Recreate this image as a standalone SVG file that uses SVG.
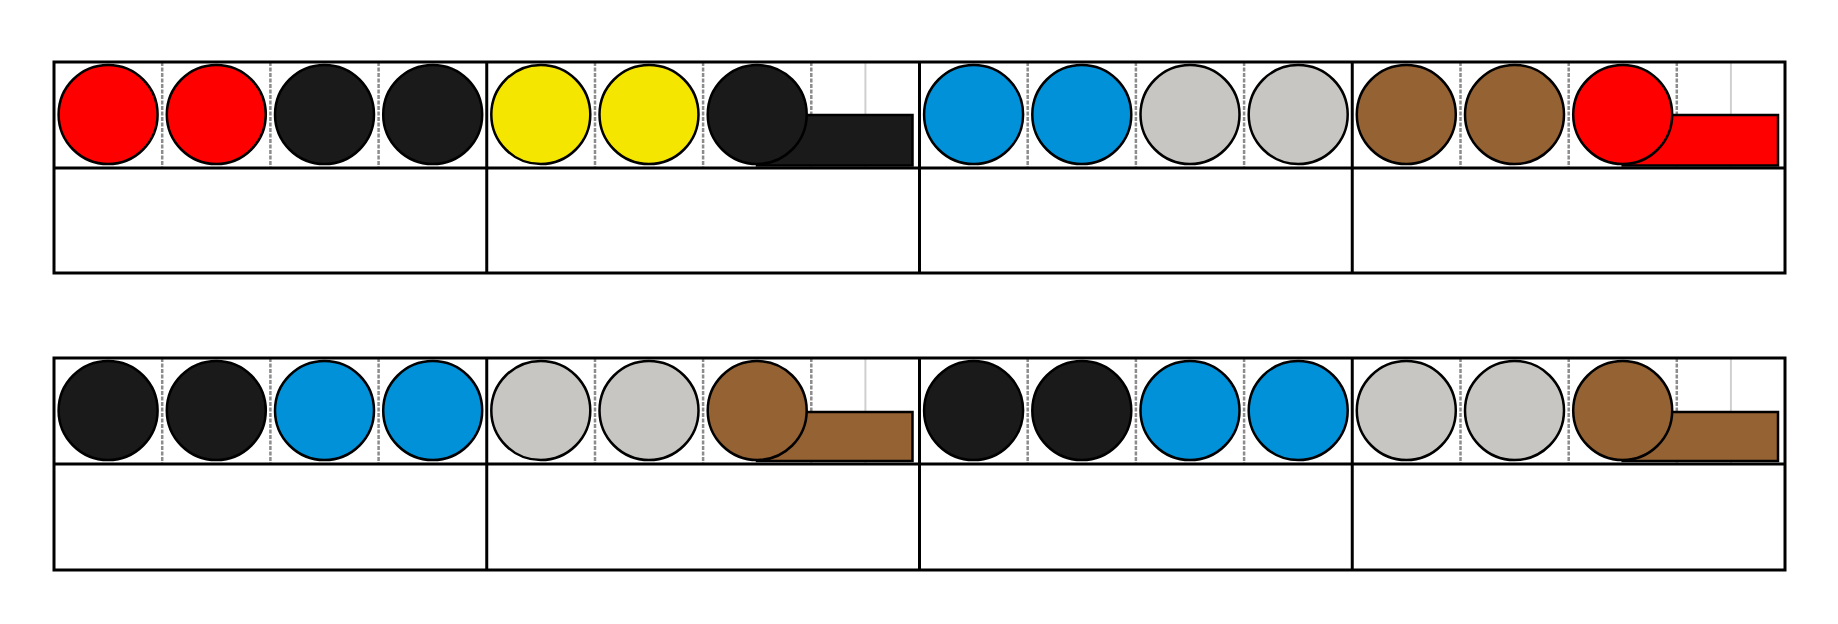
<svg xmlns="http://www.w3.org/2000/svg" width="1838" height="624" viewBox="0 0 1838 624">
<style>
.bg{fill:#ffffff}
.frame{fill:none;stroke:#000;stroke-width:3}
.dash{stroke:#8c8c8c;stroke-width:2.5;stroke-dasharray:4 1.5}
.light{stroke:#d0d0d0;stroke-width:2}
.tok{stroke:#000;stroke-width:2.5}
.red{fill:#ff0000}
.blk{fill:#1a1a1a}
.yel{fill:#f5e600}
.blu{fill:#0091d9}
.gry{fill:#c8c6c2}
.brn{fill:#956234}
</style>
<rect class="bg" x="0" y="0" width="1838" height="624"/>
<defs>
<g id="dividers">
<line class="dash" x1="162.2" y1="0" x2="162.2" y2="106"/>
<line class="dash" x1="270.4" y1="0" x2="270.4" y2="106"/>
<line class="dash" x1="378.6" y1="0" x2="378.6" y2="106"/>
<line class="dash" x1="595" y1="0" x2="595" y2="106"/>
<line class="dash" x1="703.1" y1="0" x2="703.1" y2="106"/>
<line class="dash" x1="811.3" y1="0" x2="811.3" y2="106"/>
<line class="light" x1="865.4" y1="0" x2="865.4" y2="106"/>
<line class="dash" x1="1027.7" y1="0" x2="1027.7" y2="106"/>
<line class="dash" x1="1135.9" y1="0" x2="1135.9" y2="106"/>
<line class="dash" x1="1244.1" y1="0" x2="1244.1" y2="106"/>
<line class="dash" x1="1460.5" y1="0" x2="1460.5" y2="106"/>
<line class="dash" x1="1568.7" y1="0" x2="1568.7" y2="106"/>
<line class="dash" x1="1676.8" y1="0" x2="1676.8" y2="106"/>
<line class="light" x1="1730.9" y1="0" x2="1730.9" y2="106"/>
</g>
</defs>

<g id="strip1">
<use href="#dividers" transform="translate(0,62)"/>
<g id="s1c1"><circle class="tok red" cx="108.1" cy="114.5" r="49.5"/></g>
<g id="s1c2"><circle class="tok red" cx="216.3" cy="114.5" r="49.5"/></g>
<g id="s1c3"><circle class="tok blk" cx="324.5" cy="114.5" r="49.5"/></g>
<g id="s1c4"><circle class="tok blk" cx="432.7" cy="114.5" r="49.5"/></g>
<g id="s1c5"><circle class="tok yel" cx="540.8" cy="114.5" r="49.5"/></g>
<g id="s1c6"><circle class="tok yel" cx="649" cy="114.5" r="49.5"/></g>
<g id="s1c7"><rect class="tok blk" x="757" y="115" width="155.5" height="50.5"/><circle class="tok blk" cx="757.2" cy="114.5" r="49.5"/></g>
<g id="s1c9"><circle class="tok blu" cx="973.6" cy="114.5" r="49.5"/></g>
<g id="s1c10"><circle class="tok blu" cx="1081.8" cy="114.5" r="49.5"/></g>
<g id="s1c11"><circle class="tok gry" cx="1190" cy="114.5" r="49.5"/></g>
<g id="s1c12"><circle class="tok gry" cx="1298.2" cy="114.5" r="49.5"/></g>
<g id="s1c13"><circle class="tok brn" cx="1406.3" cy="114.5" r="49.5"/></g>
<g id="s1c14"><circle class="tok brn" cx="1514.5" cy="114.5" r="49.5"/></g>
<g id="s1c15"><rect class="tok red" x="1622.7" y="115" width="155.3" height="50.5"/><circle class="tok red" cx="1622.7" cy="114.5" r="49.5"/></g>
<g id="s1frame">
<rect class="frame" x="54" y="62" width="1731" height="211"/>
<line class="frame" x1="54" y1="168" x2="1785" y2="168"/>
<line class="frame" x1="486.75" y1="62" x2="486.75" y2="273"/>
<line class="frame" x1="919.5" y1="62" x2="919.5" y2="273"/>
<line class="frame" x1="1352.25" y1="62" x2="1352.25" y2="273"/>
</g>
</g>

<g id="strip2">
<use href="#dividers" transform="translate(0,358)"/>
<g id="s2c1"><circle class="tok blk" cx="108.1" cy="410.5" r="49.5"/></g>
<g id="s2c2"><circle class="tok blk" cx="216.3" cy="410.5" r="49.5"/></g>
<g id="s2c3"><circle class="tok blu" cx="324.5" cy="410.5" r="49.5"/></g>
<g id="s2c4"><circle class="tok blu" cx="432.7" cy="410.5" r="49.5"/></g>
<g id="s2c5"><circle class="tok gry" cx="540.8" cy="410.5" r="49.5"/></g>
<g id="s2c6"><circle class="tok gry" cx="649" cy="410.5" r="49.5"/></g>
<g id="s2c7"><rect class="tok brn" x="757" y="412" width="155.5" height="49"/><circle class="tok brn" cx="757.2" cy="410.5" r="49.5"/></g>
<g id="s2c9"><circle class="tok blk" cx="973.6" cy="410.5" r="49.5"/></g>
<g id="s2c10"><circle class="tok blk" cx="1081.8" cy="410.5" r="49.5"/></g>
<g id="s2c11"><circle class="tok blu" cx="1190" cy="410.5" r="49.5"/></g>
<g id="s2c12"><circle class="tok blu" cx="1298.2" cy="410.5" r="49.5"/></g>
<g id="s2c13"><circle class="tok gry" cx="1406.3" cy="410.5" r="49.5"/></g>
<g id="s2c14"><circle class="tok gry" cx="1514.5" cy="410.5" r="49.5"/></g>
<g id="s2c15"><rect class="tok brn" x="1622.7" y="412" width="155.3" height="49"/><circle class="tok brn" cx="1622.7" cy="410.5" r="49.5"/></g>
<g id="s2frame">
<rect class="frame" x="54" y="358" width="1731" height="212"/>
<line class="frame" x1="54" y1="464" x2="1785" y2="464"/>
<line class="frame" x1="486.75" y1="358" x2="486.75" y2="570"/>
<line class="frame" x1="919.5" y1="358" x2="919.5" y2="570"/>
<line class="frame" x1="1352.25" y1="358" x2="1352.25" y2="570"/>
</g>
</g>
</svg>
